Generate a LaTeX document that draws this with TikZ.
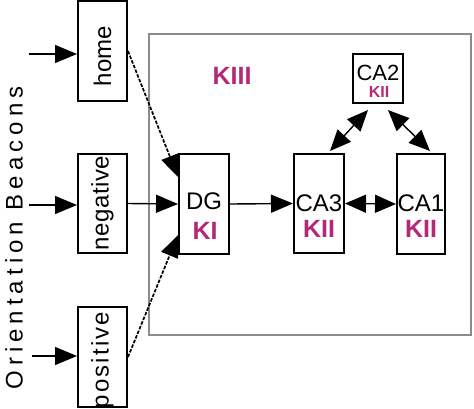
\documentclass[tikz,border=0pt]{standalone}
\usepackage{fontspec}
\setmainfont{Liberation Sans}
\usepackage{tikz}
\usetikzlibrary{positioning, arrows.meta, calc}
\definecolor{FrameColor}{RGB}{140,140,140}
\definecolor{LevelColor}{RGB}{180,40,120}
\newcommand{\level}[1]{\textcolor{LevelColor}{\textbf{#1}}}
\newcommand{\px}[1]{\fontsize{#1}{#1}\selectfont}
\tikzstyle{box} = [rectangle, draw, line width=2pt, inner sep=0pt]
\tikzstyle{arrow} = [line width=1.4pt, -{Triangle[length=22pt, width=18pt]}]
\tikzstyle{dotarrow} = [arrow, line width=1.7pt, dash pattern=on 3.5pt off 1.5pt]
\tikzstyle{twoway} = [line width=1.4pt, {Triangle[length=21pt, width=18pt]}-{Triangle[length=21pt, width=18pt]}]

\begin{document}
\begin{tikzpicture}[x=1pt, y=-1pt]
  \useasboundingbox (0,0) rectangle (474,408);

  % KIII area
  \node[rectangle, draw=FrameColor, line width=1.5pt, minimum width=322pt, minimum height=301pt] (area) at (310,184.5) {};
  \node[font=\px{25}] (kiii) at (232,76) {\level{KIII}};

  % Beacon boxes
  \node[box, minimum width=49pt, minimum height=100pt] (home) at (102.5,51) {};
  \node[box, minimum width=49pt, minimum height=99pt] (negative) at (102.5,203.5) {};
  \node[box, minimum width=49pt, minimum height=100pt] (positive) at (102.5,357) {};
  \node[rotate=90, font=\px{24}] (homelabel) at (102.5,56) {home};
  \node[rotate=90, font=\px{24}\addfontfeature{LetterSpace=2}] (negativelabel) at (102.5,203) {negative};
  \node[rotate=90, font=\px{24}\addfontfeature{LetterSpace=9}] (positivelabel) at (102.5,360) {positive};
  \node[rotate=90, font=\px{24}\addfontfeature{LetterSpace=21}] (beacons) at (14,238) {Orientation  Beacons};

  % Inputs
  \coordinate (homein) at (29,54);
  \coordinate (negativein) at (29,205);
  \coordinate (positivein) at (32,356);
  \draw[arrow] (homein) -- (homein -| home.west);
  \draw[arrow] (negativein) -- (negativein -| negative.west);
  \draw[arrow] (positivein) -- (positivein -| positive.west);

  % Hippocampal boxes
  \node[box, minimum width=50pt, minimum height=100pt] (dg) at (204,204) {};
  \node[box, minimum width=50pt, minimum height=99pt] (ca3) at (319,203.5) {};
  \node[box, minimum width=48pt, minimum height=100pt] (ca1) at (421,204) {};
  \node[box, minimum width=50pt, minimum height=49pt] (ca2) at (378,78.5) {};

  \node[font=\px{24}] (dglabel) at (204,201) {DG};
  \node[font=\px{25}] (dglevel) at (205,231) {\level{KI}};
  \node[font=\px{24}] (ca3label) at (319,203) {CA3};
  \node[font=\px{25}] (ca3level) at (319,229) {\level{KII}};
  \node[font=\px{24}] (ca1label) at (421,203) {CA1};
  \node[font=\px{25}] (ca1level) at (421,229) {\level{KII}};
  \node[font=\px{22}] (ca2label) at (378,73) {CA2};
  \node[font=\px{16}] (ca2level) at (379,92) {\level{KII}};

  % Connections
  \draw[dotarrow] (home.east) -- ([yshift=27pt]dg.west);
  \draw[arrow] (negative.east) -- (dg.west);
  \draw[dotarrow] (positive.east) -- ([yshift=-31pt]dg.west);
  \draw[arrow] (dg.east) -- (ca3.west);
  \draw[twoway] (ca3.east) -- (ca1.west);
  \draw[twoway] ([xshift=11pt, yshift=2pt]ca3.north) -- ([xshift=-10pt, yshift=-6pt]ca2.south);
  \draw[twoway] ([xshift=9pt, yshift=2pt]ca1.north) -- ([xshift=10pt, yshift=-6pt]ca2.south);
\end{tikzpicture}
\end{document}
